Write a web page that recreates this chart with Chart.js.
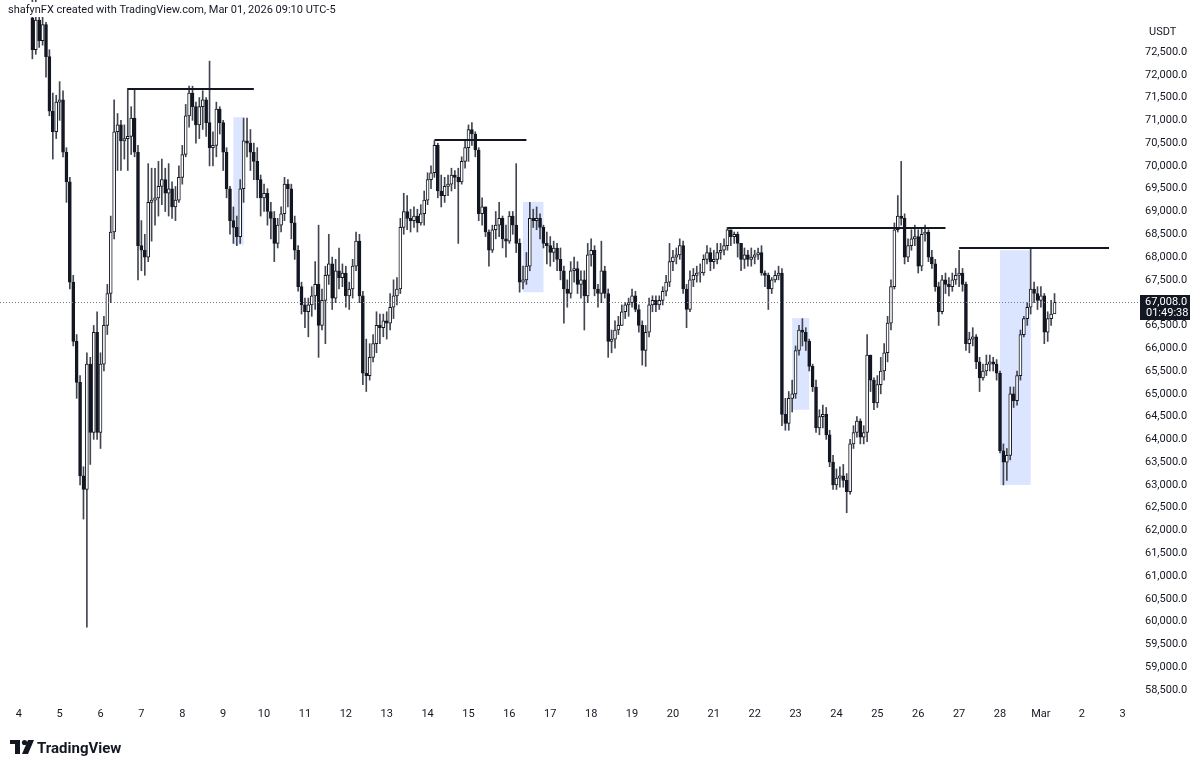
<!DOCTYPE html>
<html>
<head>
<meta charset="utf-8">
<script src="https://cdn.jsdelivr.net/npm/chart.js@4.4.1/dist/chart.umd.min.js"></script>
<style>
  html, body { margin: 0; padding: 0; background: #ffffff; }
  #wrap { width: 1200px; height: 769px; }
</style>
</head>
<body>
<div id="wrap"><canvas id="btcChart" width="1200" height="769"></canvas></div>
<script>
// --- 2H CANDLES, FEB 04 08:00 -> MAR 01 08:00 (open = previous close) ---
const firstCandle = '02-04 08:00';
const firstOpen = 73250;

const closes = [
  // Feb 4 (08:00 - 22:00)
  72550, 73200, 72750, 73100, 72400, 71200, 70750, 71400,
  // Feb 5
  71450, 70300, 69650, 67450, 66150, 65250, 63200, 62900, 65650, 64150, 66350, 64150,
  // Feb 6
  65650, 66500, 67200, 68550, 70750, 70900, 70550, 70600, 70650, 71050, 70300, 68250,
  // Feb 7
  68150, 68000, 69200, 69250, 69300, 69550, 69700, 69400, 69500, 69100, 69250, 69750,
  // Feb 8
  70250, 71100, 71600, 71300, 70900, 71300, 71450, 70950, 70400, 70450, 71250, 70950,
  // Feb 9
  70300, 69500, 68800, 68650, 68450, 69500, 70550, 70500, 70300, 70100, 69700, 69300,
  // Feb 10
  69400, 69000, 68850, 68300, 68700, 68950, 69600, 69500, 68750, 68150, 67350, 66950,
  // Feb 11
  66800, 66950, 67150, 67400, 66500, 67050, 67600, 67850, 67100, 67700, 67550, 67650,
  // Feb 12
  67150, 67300, 67800, 68350, 67150, 65450, 65400, 65800, 66100, 66500, 66450, 66600,
  // Feb 13
  66550, 66900, 67150, 67300, 68650, 69000, 68850, 68800, 68900, 68750, 68950, 69250,
  // Feb 14
  69700, 69850, 70450, 69450, 69350, 69550, 69600, 69800, 69750, 69650, 70100, 70400,
  // Feb 15
  70800, 70700, 70350, 68950, 69100, 68550, 68150, 68600, 68700, 68850, 68400, 68350,
  // Feb 16
  68900, 68700, 68300, 67450, 67500, 67800, 68850, 68800, 68850, 68650, 68300, 68250,
  // Feb 17
  68100, 68200, 67950, 67700, 67300, 67200, 67700, 67750, 67400, 67500, 67150, 68050,
  // Feb 18
  68150, 67300, 67200, 67700, 67200, 66150, 66200, 66400, 66500, 66800, 66950, 67000,
  // Feb 19
  67150, 66850, 66500, 65950, 66350, 66950, 67050, 66950, 67050, 67250, 67450, 67900,
  // Feb 20
  68000, 68050, 68250, 67300, 66850, 67500, 67600, 67650, 67650, 67950, 68100, 67900,
  // Feb 21
  67950, 68100, 68150, 68250, 68600, 68450, 68500, 68300, 67950, 68050, 67950, 68000,
  // Feb 22
  68050, 68100, 67650, 67600, 67300, 67500, 67600, 67650, 64550, 64350, 64900, 65000,
  // Feb 23
  65950, 66400, 66350, 66150, 65600, 65150, 64250, 64500, 64550, 64100, 63500, 63000,
  // Feb 24
  63150, 63200, 63100, 62850, 63900, 64150, 64400, 64050, 64150, 65850, 65300, 64800,
  // Feb 25
  65200, 65500, 65900, 66550, 67350, 68600, 68900, 68850, 68000, 68250, 68400, 68450,
  // Feb 26
  67800, 68500, 68550, 68000, 67850, 67350, 66800, 67500, 67400, 67350, 67500, 67600,
  // Feb 27
  67650, 67400, 66100, 66200, 66250, 65700, 65350, 65500, 65650, 65700, 65650, 65450,
  // Feb 28
  63750, 63500, 63650, 65000, 64850, 65400, 66300, 66650, 66900, 67300, 67200, 67050,
  // Mar 1 (00:00 - 08:00)
  67150, 66350, 66650, 66750, 67008
];

const highs = [
  73700, 73700, 73550, 73450, 73150, 72550, 71600, 71550,
  71850, 71650, 70400, 69750, 67600, 66300, 65400, 63400, 65900, 65800, 66500, 66800,
  65900, 66700, 67400, 68900, 71450, 71150, 71000, 70900, 71700, 71300, 71700, 70450,
  68800, 68500, 70050, 69950, 69950, 70100, 70150, 69950, 70050, 69650, 69550, 70000,
  70450, 71350, 71750, 71750, 71400, 71500, 71650, 71500, 72300, 70750, 71400, 71300,
  71000, 70400, 69550, 69100, 68900, 69700, 71050, 71050, 70800, 70500, 70400, 69800,
  69600, 69500, 69200, 69000, 68850, 69100, 69750, 69700, 69600, 68900, 68250, 67450,
  67100, 67100, 67350, 67900, 68700, 67300, 67800, 68500, 68000, 67950, 68200, 67850,
  67800, 67450, 67950, 68550, 68500, 67250, 66200, 66100, 66300, 66800, 66750, 66750,
  66800, 67200, 67500, 67550, 68850, 69400, 69350, 69050, 69100, 69050, 69150, 69450,
  69850, 70000, 70550, 70500, 69800, 69750, 69800, 69950, 69900, 69950, 70200, 70550,
  70900, 70950, 70750, 70400, 69300, 69100, 68600, 68700, 69000, 69200, 68900, 68700,
  69000, 69000, 70050, 68400, 67800, 68100, 69200, 69050, 69100, 68950, 68700, 68550,
  68450, 68350, 68300, 68200, 67800, 67500, 67900, 68000, 67900, 67700, 67700, 68300,
  68400, 68250, 67400, 68350, 67800, 67300, 66400, 66600, 66700, 66950, 67000, 67100,
  67300, 67250, 66950, 66600, 66500, 67100, 67150, 67150, 67150, 67350, 67600, 68300,
  68150, 68200, 68400, 68350, 67400, 67700, 67750, 67800, 67850, 68050, 68250, 68200,
  68150, 68300, 68300, 68400, 68650, 68600, 68550, 68550, 68300, 68200, 68150, 68200,
  68150, 68200, 68250, 67700, 67650, 67550, 67700, 67800, 67750, 64900, 65050, 65300,
  66050, 66500, 66650, 66450, 66200, 65650, 65300, 64650, 64750, 64700, 64200, 63650,
  63350, 63400, 63450, 63250, 64000, 64300, 64500, 64450, 64300, 66300, 65850, 65350,
  65400, 65800, 66100, 66700, 67500, 68750, 69350, 70100, 68950, 68400, 68600, 68700,
  68600, 68650, 68700, 68600, 68150, 67950, 67450, 67600, 67650, 67550, 67650, 67750,
  68150, 67750, 67450, 66350, 66450, 66300, 65800, 65650, 65850, 65850, 65800, 65750,
  65500, 63900, 63800, 65150, 65150, 65500, 66400, 66700, 67000, 68200, 67450, 67350,
  67350, 67200, 66800, 67050, 67200
];

const lows = [
  72350, 72450, 72600, 72650, 71950, 71100, 70150, 70600,
  71000, 70200, 69200, 67300, 66050, 64900, 63000, 62250, 59880, 63450, 64000, 64000,
  63800, 65500, 66300, 67000, 68400, 69900, 69900, 70150, 69900, 70250, 70200, 67500,
  67700, 67600, 67900, 68350, 68700, 68900, 69150, 69000, 68900, 68850, 68800, 69200,
  69600, 70200, 70850, 71000, 70500, 70600, 70800, 70650, 70000, 70000, 70200, 70700,
  69900, 69300, 68500, 68300, 68250, 68300, 69200, 70200, 69900, 69700, 69300, 68900,
  69000, 68700, 68400, 67900, 68200, 68550, 68800, 69100, 68400, 67950, 67250, 66750,
  66450, 66250, 66700, 66850, 65800, 66400, 66100, 67400, 66850, 67000, 67300, 67350,
  66900, 66850, 67100, 67700, 67000, 65200, 65050, 65300, 65700, 65900, 66100, 66250,
  66200, 66400, 66650, 66950, 67200, 68500, 68600, 68550, 68650, 68550, 68700, 68700,
  69150, 69500, 69750, 69300, 69100, 69200, 69350, 69450, 69500, 68300, 69600, 69950,
  70100, 70450, 70200, 68800, 68700, 68450, 67800, 68100, 68400, 68450, 68200, 68000,
  68300, 68500, 68100, 67230, 67300, 67400, 67700, 68650, 68600, 68400, 68200, 67850,
  67800, 67900, 67700, 67500, 66550, 66900, 67100, 67450, 67200, 67100, 66400, 67000,
  67800, 67150, 66900, 67000, 67100, 65800, 65900, 66000, 66300, 66500, 66650, 66700,
  66900, 66800, 66350, 65630, 65600, 66250, 66800, 66800, 66850, 66950, 67150, 67350,
  67700, 67850, 67950, 67200, 66450, 66800, 67350, 67450, 67450, 67600, 67850, 67700,
  67750, 67850, 67950, 68050, 68150, 68250, 68300, 68000, 67700, 67750, 67800, 67800,
  67850, 67950, 67600, 67350, 66850, 67200, 67450, 67500, 64300, 64200, 64200, 64600,
  64900, 65850, 66050, 65950, 65500, 65050, 64150, 64100, 64250, 64000, 63400, 62900,
  62900, 62950, 62950, 62390, 62800, 63800, 64050, 63900, 63900, 63950, 65050, 64650,
  64700, 65000, 65300, 65700, 66400, 67300, 68550, 68700, 67850, 67900, 68150, 68250,
  67650, 67700, 68350, 67900, 67750, 67250, 66500, 66750, 67200, 67150, 67250, 67400,
  67350, 67250, 65950, 65900, 66050, 65550, 65050, 65300, 65400, 65500, 65500, 65300,
  63700, 63000, 63100, 63550, 64700, 64750, 65300, 66250, 66500, 66750, 67000, 66850,
  66900, 66100, 66150, 66500, 66850
];

// day names under the time axis, Feb 4 ... Mar 3
const dayLabels = ['4', '5', '6', '7', '8', '9', '10', '11', '12', '13', '14', '15', '16',
  '17', '18', '19', '20', '21', '22', '23', '24', '25', '26', '27', '28', 'Mar', '2', '3'];

// price axis ticks
const priceTicks = [58500, 59000, 59500, 60000, 60500, 61000, 61500, 62000, 62500, 63000,
  63500, 64000, 64500, 65000, 65500, 66000, 66500, 67000, 67500, 68000, 68500, 69000,
  69500, 70000, 70500, 71000, 71500, 72000, 72500];

// drawn levels (price) and highlighted zones (time range + price range)
const levels = [
  { from: '02-06 16:00', to: '02-09 18:00', price: 71690 },
  { from: '02-14 04:00', to: '02-16 10:00', price: 70570 },
  { from: '02-21 08:00', to: '02-26 16:00', price: 68640 },
  { from: '02-27 00:00', to: '03-02 16:00', price: 68200 }
];
const zones = [
  { from: '02-09 06:00', to: '02-09 12:00', top: 71070, bottom: 68270 },
  { from: '02-16 08:00', to: '02-16 20:00', top: 69210, bottom: 67230 },
  { from: '02-22 22:00', to: '02-23 08:00', top: 66660, bottom: 64650 },
  { from: '02-28 00:00', to: '02-28 18:00', top: 68150, bottom: 63000 }
];

// --- time slots for the category axis (2h each) ---
const START = Date.UTC(2026, 1, 3, 14);
const SLOT_MS = 2 * 3600 * 1000;
const SLOT_COUNT = 334;
const FEB4 = Date.UTC(2026, 1, 4);
const pad = n => String(n).padStart(2, '0');

const slotTimes = [];
const labels = [];
for (let i = 0; i < SLOT_COUNT; i++) {
  const d = new Date(START + i * SLOT_MS);
  slotTimes.push(d);
  labels.push(pad(d.getUTCMonth() + 1) + '-' + pad(d.getUTCDate()) + ' ' + pad(d.getUTCHours()) + ':00');
}

const opens = closes.map((c, i) => (i === 0 ? firstOpen : closes[i - 1]));
const firstIdx = labels.indexOf(firstCandle);
const candleAt = i => {
  const k = i - firstIdx;
  return k >= 0 && k < closes.length ? k : -1;
};

const bodyData = labels.map((_, i) => {
  const k = candleAt(i);
  return k < 0 ? null : [opens[k], closes[k]];
});
const wickData = labels.map((_, i) => {
  const k = candleAt(i);
  return k < 0 ? null : [lows[k], highs[k]];
});
const bodyFill = labels.map((_, i) => {
  const k = candleAt(i);
  return k >= 0 && closes[k] < opens[k] ? '#131722' : '#ffffff';
});

const FONT = 'Roboto, "Liberation Sans", sans-serif';
const TEXT = '#131722';
const fmtPrice = v => v.toLocaleString('en-US', { minimumFractionDigits: 1, maximumFractionDigits: 1 });

// --- overlays: zones, levels, last price line, axis labels, watermark ---
const overlayPlugin = {
  id: 'overlay',
  beforeDatasetsDraw(chart) {
    const { ctx, scales: { x, y } } = chart;
    ctx.save();
    ctx.fillStyle = 'rgba(41, 98, 255, 0.17)';
    zones.forEach(z => {
      const x1 = x.getPixelForValue(labels.indexOf(z.from));
      const x2 = x.getPixelForValue(labels.indexOf(z.to));
      const y1 = y.getPixelForValue(z.top);
      const y2 = y.getPixelForValue(z.bottom);
      ctx.fillRect(x1, y1, x2 - x1, y2 - y1);
    });
    ctx.restore();
  },
  afterDatasetsDraw(chart) {
    const { ctx, chartArea, scales: { x, y } } = chart;
    ctx.save();
    ctx.strokeStyle = TEXT;
    ctx.lineWidth = 2;
    levels.forEach(l => {
      const py = Math.round(y.getPixelForValue(l.price));
      ctx.beginPath();
      ctx.moveTo(x.getPixelForValue(labels.indexOf(l.from)), py);
      ctx.lineTo(x.getPixelForValue(labels.indexOf(l.to)), py);
      ctx.stroke();
    });
    // last price dotted line
    const last = closes[closes.length - 1];
    const ly = Math.round(y.getPixelForValue(last)) + 0.5;
    ctx.strokeStyle = '#787b86';
    ctx.lineWidth = 1;
    ctx.setLineDash([1, 2]);
    ctx.beginPath();
    ctx.moveTo(chartArea.left, ly);
    ctx.lineTo(chartArea.right, ly);
    ctx.stroke();
    ctx.restore();
  },
  afterDraw(chart) {
    const { ctx, chartArea, scales: { y } } = chart;
    const last = closes[closes.length - 1];
    const ly = Math.round(y.getPixelForValue(last));
    ctx.save();
    // price tag on the axis
    ctx.fillStyle = '#131722';
    ctx.fillRect(chartArea.right + 2, ly - 7, 50, 25);
    ctx.fillStyle = '#ffffff';
    ctx.font = '11px ' + FONT;
    ctx.textBaseline = 'middle';
    ctx.textAlign = 'left';
    ctx.fillText(fmtPrice(last), chartArea.right + 7, ly);
    ctx.fillText('01:49:38', chartArea.right + 8, ly + 11);
    // currency
    ctx.fillStyle = TEXT;
    ctx.fillText('USDT', chartArea.right + 11, 32);
    // watermark, on its own white strip
    const note = 'shafynFX created with TradingView.com, Mar 01, 2026 09:10 UTC-5';
    ctx.font = '11px ' + FONT;
    ctx.fillStyle = '#ffffff';
    ctx.fillRect(4, 2, ctx.measureText(note).width + 8, 15);
    ctx.fillStyle = TEXT;
    ctx.fillText(note, 8, 10);
    // logo
    ctx.fillRect(10, 740, 10, 4);
    ctx.fillRect(15, 740, 5, 14);
    ctx.beginPath();
    ctx.arc(24.5, 742.5, 2.6, 0, Math.PI * 2);
    ctx.fill();
    ctx.beginPath();
    ctx.moveTo(28, 740);
    ctx.lineTo(34, 740);
    ctx.lineTo(28, 754);
    ctx.lineTo(22, 754);
    ctx.closePath();
    ctx.fill();
    ctx.font = 'bold 15px ' + FONT;
    ctx.textBaseline = 'alphabetic';
    ctx.fillText('TradingView', 37, 753);
    ctx.restore();
  }
};

// --- CANDLESTICK CHART ---
const ctx = document.getElementById('btcChart').getContext('2d');
const btcChart = new Chart(ctx, {
  type: 'bar',
  data: {
    labels: labels,
    datasets: [
      {
        label: 'Body',
        data: bodyData,
        backgroundColor: bodyFill,
        borderColor: '#131722',
        borderWidth: 1,
        borderSkipped: false,
        barThickness: 3,
        minBarLength: 1,
        grouped: false,
        clip: false,
        order: 0
      },
      {
        label: 'Wick',
        data: wickData,
        backgroundColor: '#434651',
        borderWidth: 0,
        barThickness: 1,
        grouped: false,
        clip: false,
        order: 1
      }
    ]
  },
  options: {
    responsive: false,
    animation: false,
    events: [],
    layout: { padding: { top: 0, right: 0, bottom: 39, left: 0 } },
    plugins: {
      legend: { display: false },
      tooltip: { enabled: false }
    },
    scales: {
      x: {
        type: 'category',
        offset: true,
        grid: { display: false, drawTicks: false },
        border: { display: false },
        ticks: {
          autoSkip: false,
          maxRotation: 0,
          padding: 8,
          color: TEXT,
          font: c => ({
            family: FONT,
            size: 11,
            weight: labels[c.index] === '03-01 00:00' ? 'bold' : 'normal'
          }),
          callback: (value, index) => {
            const d = slotTimes[index];
            if (!d || d.getUTCHours() !== 0) return null;
            const n = Math.round((d.getTime() - FEB4) / 86400000);
            return dayLabels[n] !== undefined ? dayLabels[n] : null;
          }
        },
        afterFit: s => { s.height = 30; s.paddingLeft = 0; s.paddingRight = 0; }
      },
      y: {
        position: 'right',
        min: 58281,
        max: 73641,
        grid: { display: false, drawTicks: false },
        border: { display: false },
        afterBuildTicks: s => { s.ticks = priceTicks.map(v => ({ value: v })); },
        ticks: {
          autoSkip: false,
          padding: 7,
          color: TEXT,
          font: { family: FONT, size: 11 },
          callback: v => fmtPrice(v)
        },
        afterFit: s => { s.width = 62; s.paddingTop = 0; s.paddingBottom = 0; }
      }
    }
  },
  plugins: [overlayPlugin]
});
</script>
</body>
</html>
